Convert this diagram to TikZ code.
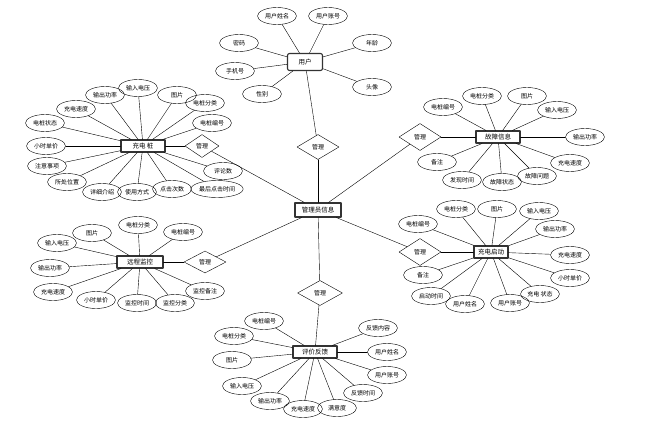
\documentclass[tikz,border=0pt]{standalone}
\usepackage{fontspec}
\newfontfamily\cjk{Noto Sans CJK SC}
\usetikzlibrary{shapes.geometric}

\begin{document}
\begin{tikzpicture}[x=1pt,y=-1pt,line cap=round,line join=round,
  attr/.style={draw,ellipse,minimum width=39pt,minimum height=17pt,inner sep=0.5pt,
    font=\cjk\fontsize{6}{7}\selectfont},
  ent/.style={draw,line width=1.1pt,draw=black!80,rectangle,minimum width=44pt,
    minimum height=12pt,inner sep=1pt,font=\cjk\fontsize{6.5}{7}\selectfont},
  rel/.style={draw,diamond,aspect=1.7,minimum width=42pt,minimum height=25pt,
    inner sep=0pt,font=\cjk\fontsize{6}{7}\selectfont}]

  \useasboundingbox (0,0) rectangle (650,434);

  %-------------------------
  % Administrator (centre)
  %-------------------------
  \node[ent,minimum width=46pt,minimum height=14pt] (admin) at (318,210) {管理员信息};

  %-------------------------
  % Users
  %-------------------------
  \node[ent,rounded corners=2pt,minimum width=35pt,minimum height=17pt] (user) at (305,62) {用户};
  \node[rel] (mUser) at (318,147) {管理};

  \node[attr] (uName) at (277,16) {用户姓名};
  \node[attr] (uAcct) at (328,16) {用户账号};
  \node[attr] (uPwd)  at (239,43) {密码};
  \node[attr] (uAge)  at (372,43) {年龄};
  \node[attr] (uTel)  at (235,71) {手机号};
  \node[attr] (uSex)  at (262,94) {性别};
  \node[attr] (uImg)  at (372,87) {头像};

  \draw (user) -- (uName);
  \draw (user) -- (uAcct);
  \draw (user) -- (uPwd);
  \draw (user) -- (uAge);
  \draw (user) -- (uTel);
  \draw (user) -- (uSex);
  \draw (user) -- (uImg);
  \draw (user) -- (mUser);
  \draw (mUser) -- (admin);

  %-------------------------
  % Charging pile
  %-------------------------
  \node[ent] (pile) at (143,146) {充电 桩};
  \node[rel,minimum width=34pt,minimum height=23pt] (mPile) at (202,146) {管理};

  \node[attr] (pVin)   at (138,88)  {输入电压};
  \node[attr] (pPout)  at (105,95)  {输出功率};
  \node[attr] (pImg)   at (177,95)  {图片};
  \node[attr] (pSpeed) at (76,109)  {充电速度};
  \node[attr] (pType)  at (205,103) {电桩分类};
  \node[attr] (pState) at (45,123)  {电桩状态};
  \node[attr] (pNo)    at (212,123) {电桩编号};
  \node[attr] (pPrice) at (46,146)  {小时单价};
  \node[attr] (pNote)  at (47,166)  {注意事项};
  \node[attr] (pCmt)   at (223,171) {评论数};
  \node[attr] (pLoc)   at (67,182)  {所处位置};
  \node[attr] (pDesc)  at (102,192) {详细介绍};
  \node[attr] (pUse)   at (137,192) {使用方式};
  \node[attr] (pClick) at (172,189) {点击次数};
  \node[attr,minimum width=50pt] (pLast) at (217,189) {最后点击时间};

  \draw (pile) -- (pVin);
  \draw (pile) -- (pPout);
  \draw (pile) -- (pImg);
  \draw (pile) -- (pSpeed);
  \draw (pile) -- (pType);
  \draw (pile) -- (pState);
  \draw (pile) -- (pNo);
  \draw (pile) -- (pPrice);
  \draw (pile) -- (pNote);
  \draw (pile) -- (pCmt);
  \draw (pile) -- (pLoc);
  \draw (pile) -- (pDesc);
  \draw (pile) -- (pUse);
  \draw (pile) -- (pClick);
  \draw (pile) -- (pLast);
  \draw (pile) -- (mPile);
  \draw (mPile) -- (admin);

  %-------------------------
  % Fault information
  %-------------------------
  \node[ent] (fault) at (498,137) {故障信息};
  \node[rel,minimum height=27pt] (mFault) at (420,137) {管理};

  \node[attr] (fNo)    at (443,107) {电桩编号};
  \node[attr] (fType)  at (482,96)  {电桩分类};
  \node[attr] (fImg)   at (527,96)  {图片};
  \node[attr] (fVin)   at (557,110) {输入电压};
  \node[attr] (fPout)  at (585,137) {输出功率};
  \node[attr] (fRem)   at (437,162) {备注};
  \node[attr] (fSpeed) at (570,163) {充电速度};
  \node[attr] (fTime)  at (462,180) {发现时间};
  \node[attr] (fState) at (502,182) {故障状态};
  \node[attr] (fIssue) at (537,176) {故障问题};

  \draw (fault) -- (fNo);
  \draw (fault) -- (fType);
  \draw (fault) -- (fImg);
  \draw (fault) -- (fVin);
  \draw (fault) -- (fPout);
  \draw (fault) -- (fRem);
  \draw (fault) -- (fSpeed);
  \draw (fault) -- (fTime);
  \draw (fault) -- (fState);
  \draw (fault) -- (fIssue);
  \draw (fault) -- (mFault);
  \draw (mFault) -- (admin);

  %-------------------------
  % Remote monitoring
  %-------------------------
  \node[ent,minimum width=46pt] (mon) at (140,262) {远程监控};
  \node[rel,minimum height=22pt] (mMon) at (205,262) {管理};

  \node[attr] (mImg)   at (92,233)  {图片};
  \node[attr] (mType)  at (138,225) {电桩分类};
  \node[attr] (mNo)    at (183,232) {电桩编号};
  \node[attr] (mVin)   at (57,243)  {输入电压};
  \node[attr] (mPout)  at (50,268)  {输出功率};
  \node[attr] (mSpeed) at (53,292)  {充电速度};
  \node[attr] (mPrice) at (96,300)  {小时单价};
  \node[attr] (mTime)  at (137,303) {监控时间};
  \node[attr] (mCat)   at (175,303) {监控分类};
  \node[attr] (mRem)   at (205,291) {监控备注};

  \draw (mon) -- (mImg);
  \draw (mon) -- (mType);
  \draw (mon) -- (mNo);
  \draw (mon) -- (mVin);
  \draw (mon) -- (mPout);
  \draw (mon) -- (mSpeed);
  \draw (mon) -- (mPrice);
  \draw (mon) -- (mTime);
  \draw (mon) -- (mCat);
  \draw (mon) -- (mRem);
  \draw (mon) -- (mMon);
  \draw (mMon) -- (admin);

  %-------------------------
  % Charging start
  %-------------------------
  \node[ent,minimum width=34pt] (start) at (491,252) {充电启动};
  \node[rel,minimum height=27pt] (mStart) at (420,252) {管理};

  \node[attr] (sType)  at (456,209) {电桩分类};
  \node[attr] (sImg)   at (497,209) {图片};
  \node[attr] (sVin)   at (539,211) {输入电压};
  \node[attr] (sNo)    at (418,224) {电桩编号};
  \node[attr] (sPout)  at (555,229) {输出功率};
  \node[attr] (sSpeed) at (570,255) {充电速度};
  \node[attr] (sRem)   at (423,275) {备注};
  \node[attr] (sPrice) at (570,278) {小时单价};
  \node[attr] (sState) at (540,294) {充电 状态};
  \node[attr] (sTime)  at (431,296) {启动时间};
  \node[attr] (sName)  at (465,304) {用户姓名};
  \node[attr] (sAcct)  at (510,303) {用户账号};

  \draw (start) -- (sType);
  \draw (start) -- (sImg);
  \draw (start) -- (sVin);
  \draw (start) -- (sNo);
  \draw (start) -- (sPout);
  \draw (start) -- (sSpeed);
  \draw (start) -- (sRem);
  \draw (start) -- (sPrice);
  \draw (start) -- (sState);
  \draw (start) -- (sTime);
  \draw (start) -- (sName);
  \draw (start) -- (sAcct);
  \draw (start) -- (mStart);
  \draw (mStart) -- (admin);

  %-------------------------
  % Evaluation feedback
  %-------------------------
  \node[ent] (fb) at (315,352) {评价反馈};
  \node[rel,minimum width=45pt] (mFb) at (320,293) {管理};

  \node[attr] (eNo)    at (264,321) {电桩编号};
  \node[attr] (eType)  at (234,336) {电桩分类};
  \node[attr] (eImg)   at (232,360) {图片};
  \node[attr] (eVin)   at (242,386) {输入电压};
  \node[attr] (ePout)  at (270,401) {输出功率};
  \node[attr] (eSpeed) at (303,409) {充电速度};
  \node[attr] (eSat)   at (337,408) {满意度};
  \node[attr] (eTime)  at (363,393) {反馈时间};
  \node[attr] (eAcct)  at (387,375) {用户账号};
  \node[attr] (eName)  at (387,352) {用户姓名};
  \node[attr] (eText)  at (378,328) {反馈内容};

  \draw (fb) -- (eNo);
  \draw (fb) -- (eType);
  \draw (fb) -- (eImg);
  \draw (fb) -- (eVin);
  \draw (fb) -- (ePout);
  \draw (fb) -- (eSpeed);
  \draw (fb) -- (eSat);
  \draw (fb) -- (eTime);
  \draw (fb) -- (eAcct);
  \draw (fb) -- (eName);
  \draw (fb) -- (eText);
  \draw (fb) -- (mFb);
  \draw (mFb) -- (admin);

\end{tikzpicture}
\end{document}
